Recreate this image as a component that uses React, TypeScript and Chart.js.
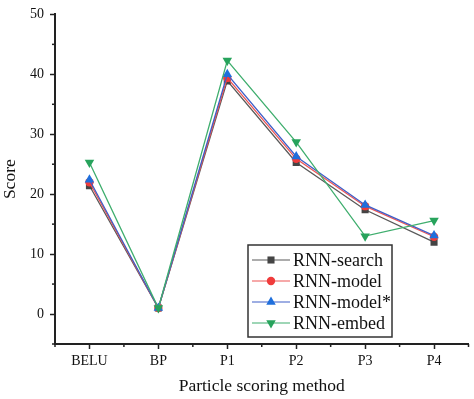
import React, { useEffect, useRef } from "react";
import { Chart, registerables } from "chart.js";

Chart.register(...registerables);

const categories = ["BELU", "BP", "P1", "P2", "P3", "P4"];
const seriesNames = ["RNN-search", "RNN-model", "RNN-model*", "RNN-embed"];
const rnnSearch = [21.4, 1.0, 38.9, 25.3, 17.4, 12.0];
const rnnModel = [22.0, 1.0, 39.4, 25.9, 18.0, 12.9];
const rnnModelStar = [22.4, 1.0, 40.0, 26.3, 18.2, 13.1];
const rnnEmbed = [25.3, 1.0, 42.3, 28.7, 13.0, 15.6];
const yTicks = [0, 10, 20, 30, 40, 50];
const yMinorTicks = [-5, 5, 15, 25, 35, 45];

const FONT = "'Liberation Serif', 'Times New Roman', serif";

const styles = [
  { line: "#5a5a5a", fill: "#444444", point: "rect", rot: 0, radius: 5 },
  { line: "#ee5555", fill: "#f03c3c", point: "circle", rot: 0, radius: 4.2 },
  { line: "#3f5fc8", fill: "#1f6fdc", point: "triangle", rot: 0, radius: 5.5 },
  { line: "#3fae6e", fill: "#27a35c", point: "triangle", rot: 180, radius: 5.5 },
];

function drawMarker(ctx: CanvasRenderingContext2D, style: string, rot: number, x: number, y: number, r: number) {
  ctx.beginPath();
  if (style === "rect") {
    const s = Math.SQRT1_2 * r;
    ctx.rect(x - s, y - s, 2 * s, 2 * s);
  } else if (style === "circle") {
    ctx.arc(x, y, r, 0, Math.PI * 2);
  } else {
    const dir = rot === 180 ? -1 : 1;
    const h = r * 1.5;
    const w = r * Math.sqrt(3) / 2;
    ctx.moveTo(x, y - dir * r);
    ctx.lineTo(x + w, y - dir * (r - h));
    ctx.lineTo(x - w, y - dir * (r - h));
    ctx.closePath();
  }
  ctx.fill();
}

const extrasPlugin = {
  id: "extras",
  afterDraw(chart: any) {
    const ctx: CanvasRenderingContext2D = chart.ctx;
    const { chartArea } = chart;
    const ys = chart.scales.y;
    const xs = chart.scales.x;
    ctx.save();
    ctx.strokeStyle = "#222";
    ctx.lineWidth = 1.5;
    // minor y ticks
    for (const v of yMinorTicks) {
      const py = ys.getPixelForValue(v);
      ctx.beginPath();
      ctx.moveTo(chartArea.left - 3, py);
      ctx.lineTo(chartArea.left, py);
      ctx.stroke();
    }
    // minor x ticks at category boundaries
    for (let i = 0; i <= categories.length; i++) {
      const px = xs.getPixelForValue(i - 0.5);
      ctx.beginPath();
      ctx.moveTo(px, chartArea.bottom);
      ctx.lineTo(px, chartArea.bottom + 3);
      ctx.stroke();
    }
    // legend
    const bx = 248, by = 245, bw = 144, bh = 92;
    ctx.fillStyle = "#ffffff";
    ctx.fillRect(bx, by, bw, bh);
    ctx.strokeStyle = "#333";
    ctx.lineWidth = 1.5;
    ctx.strokeRect(bx, by, bw, bh);
    ctx.font = `18px ${FONT}`;
    ctx.textBaseline = "middle";
    ctx.textAlign = "left";
    seriesNames.forEach((name, i) => {
      const cy = 260 + i * 21;
      const st = styles[i];
      ctx.strokeStyle = st.line;
      ctx.lineWidth = 1.2;
      ctx.beginPath();
      ctx.moveTo(252, cy);
      ctx.lineTo(290, cy);
      ctx.stroke();
      ctx.fillStyle = st.fill;
      drawMarker(ctx, st.point, st.rot, 271, cy, st.radius);
      ctx.fillStyle = "#111";
      ctx.fillText(name, 293, cy + 1);
    });
    ctx.restore();
  },
};

export default function App() {
  const ref = useRef<HTMLCanvasElement | null>(null);
  useEffect(() => {
    if (!ref.current) return;
    const series = [rnnSearch, rnnModel, rnnModelStar, rnnEmbed];
    const orders = [3, 2, 1, 0];
    const chart = new Chart(ref.current, {
      type: "line",
      data: {
        labels: categories,
        datasets: series.map((d, i) => ({
          label: seriesNames[i],
          data: d,
          borderColor: styles[i].line,
          backgroundColor: styles[i].fill,
          pointBackgroundColor: styles[i].fill,
          pointBorderColor: styles[i].fill,
          pointBorderWidth: 0,
          pointStyle: styles[i].point as any,
          pointRotation: styles[i].rot,
          pointRadius: styles[i].radius,
          borderWidth: 1.3,
          tension: 0,
          order: orders[i],
        })),
      },
      options: {
        animation: false,
        responsive: false,
        maintainAspectRatio: false,
        layout: { padding: { left: 0, right: 2, top: 7, bottom: 0 } },
        plugins: { legend: { display: false }, tooltip: { enabled: false } },
        scales: {
          x: {
            type: "category",
            offset: true,
            grid: { drawOnChartArea: false, offset: false, tickLength: 5, tickColor: "#222", tickWidth: 1.5 },
            border: { color: "#222", width: 2 },
            ticks: { color: "#111", font: { family: FONT, size: 14 }, padding: 4, maxRotation: 0 },
            title: { display: true, text: "Particle scoring method", color: "#111", font: { family: FONT, size: 17.5 }, padding: { top: 0, bottom: 2 } },
            afterFit: (s: any) => { s.height = 55; },
          },
          y: {
            min: -5,
            max: 50,
            afterBuildTicks: (s: any) => { s.ticks = yTicks.map((v) => ({ value: v })); },
            grid: { drawOnChartArea: false, tickLength: 5, tickColor: "#222", tickWidth: 1.5 },
            border: { color: "#222", width: 2 },
            ticks: { color: "#111", font: { family: FONT, size: 14 }, padding: 6 },
            title: { display: true, text: "Score", color: "#111", font: { family: FONT, size: 17.5 }, padding: { top: 0, bottom: 0 } },
            afterFit: (s: any) => { s.width = 55; },
          },
        },
      },
      plugins: [extrasPlugin],
    });
    return () => chart.destroy();
  }, []);
  return (
    <div style={{ position: "fixed", left: 0, top: 0, width: 474, height: 399, background: "#fff" }}>
      <canvas ref={ref} width={474} height={399} style={{ width: 474, height: 399 }} />
    </div>
  );
}
